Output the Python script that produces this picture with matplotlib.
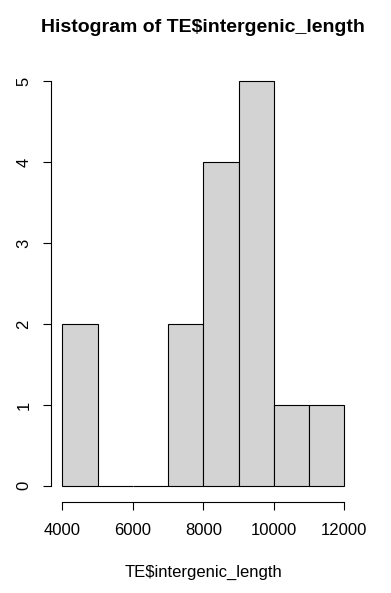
import matplotlib.pyplot as plt

plt.rcParams['font.family'] = ['Liberation Sans', 'DejaVu Sans']

# histogram bins and counts
bin_edges = [4000, 5000, 6000, 7000, 8000, 9000, 10000, 11000, 12000]
counts = [2, 0, 0, 2, 4, 5, 1, 1]
x_ticks = [4000, 6000, 8000, 10000, 12000]
y_ticks = [0, 1, 2, 3, 4, 5]

W, H = 391, 593
fig = plt.figure(figsize=(W / 100, H / 100), dpi=100)
left, right, top, bottom = 51, 355.6, 65, 502
ax = fig.add_axes([left / W, 1 - bottom / H, (right - left) / W, (bottom - top) / H])

widths = [b - a for a, b in zip(bin_edges[:-1], bin_edges[1:])]
ax.bar(bin_edges[:-1], counts, width=widths, align='edge',
       color='#D3D3D3', edgecolor='black', linewidth=0.8)

ax.set_xlim(3680, 12320)
ax.set_ylim(-0.2, 5.2)
for s in ['top', 'right']:
    ax.spines[s].set_visible(False)
ax.spines['left'].set_bounds(0, 5)
ax.spines['bottom'].set_bounds(4000, 12000)
ax.spines['left'].set_linewidth(0.8)
ax.spines['bottom'].set_linewidth(0.8)

ax.set_xticks(x_ticks)
ax.set_xticklabels([str(t) for t in x_ticks])
ax.set_yticks(y_ticks)
ax.set_yticklabels([str(t) for t in y_ticks], rotation=90, va='center')
ax.tick_params(length=6, width=0.8, labelsize=12)
ax.tick_params(axis='x', pad=9)
ax.tick_params(axis='y', pad=8)

fig.text(0.5 * (left + right) / W, 1 - 28 / H, 'Histogram of TE$intergenic_length',
         ha='center', va='center', fontsize=14, fontweight='bold')
fig.text(0.5 * (left + right) / W, 1 - 572 / H, 'TE$intergenic_length',
         ha='center', va='center', fontsize=12)

fig.savefig('out.png', dpi=100)
